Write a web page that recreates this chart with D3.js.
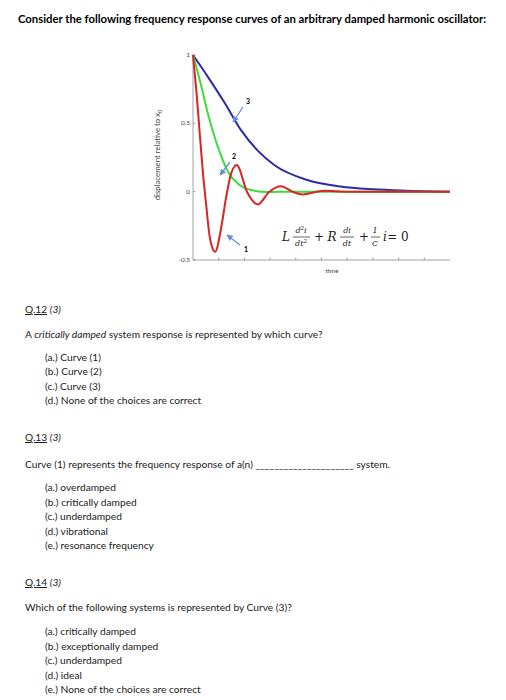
<!DOCTYPE html>
<html><head><meta charset="utf-8">
<script src="https://cdn.jsdelivr.net/npm/d3@7"></script>
<style>body{margin:0;background:#fff}text{font-family:Lato,"Open Sans",sans-serif}</style>
</head><body>
<svg id="page" width="506" height="700"></svg>
<script>
// curve samples (time, displacement)
const curve1 = [[0,1],[0.13,0.74],[0.26,0.43],[0.39,0.13],[0.52,-0.11],[0.65,-0.33],[0.86,-0.44],[1.1,-0.26],[1.29,-0.04],[1.48,0.13],[1.7,0.195],[2.1,0.0],[2.52,-0.093],[2.97,0],[3.42,0.04],[3.87,0],[4.26,-0.02],[5.1,0.007],[6,0],[10,0]];
const curve2 = [[0,1],[0.19,0.87],[0.39,0.72],[0.58,0.57],[0.84,0.4],[1.1,0.26],[1.35,0.15],[1.74,0.06],[2.26,0.012],[2.9,-0.003],[3.8,0],[10,0]];
const curve3 = [[0,1],[0.58,0.84],[1.23,0.65],[1.87,0.45],[2.52,0.3],[3.16,0.195],[4.45,0.085],[5.74,0.037],[7,0.017],[8.3,0.007],[10,0]];
const yTicks = [1, 0.5, 0, -0.5];
const xTicks = [1,2,3,4,5,6,7,8,9];

const svg = d3.select('#page');
const x = d3.scaleLinear().domain([0,10]).range([193,450]);
const y = d3.scaleLinear().domain([-0.5,1]).range([260,55]);

svg.append('text').attr('x',18).attr('y',23).attr('font-size',11.3).attr('font-weight','bold')
  .text('Consider the following frequency response curves of an arbitrary damped harmonic oscillator:');

// axes
const g = svg.append('g');
g.append('line').attr('x1',x(0)).attr('x2',x(0)).attr('y1',y(1)).attr('y2',y(-0.5)).attr('stroke','#666').attr('stroke-width',0.6);
g.append('line').attr('x1',x(0)).attr('x2',x(10)).attr('y1',y(-0.5)).attr('y2',y(-0.5)).attr('stroke','#666').attr('stroke-width',0.6);
g.selectAll('.yt').data(yTicks).join('line').attr('x1',x(0)).attr('x2',x(0)+2.5)
  .attr('y1',d=>y(d)).attr('y2',d=>y(d)).attr('stroke','#666').attr('stroke-width',0.6);
g.selectAll('.yl').data(yTicks).join('text').attr('x',x(0)-3).attr('y',d=>y(d)+2)
  .attr('text-anchor','end').attr('font-size',6.5).attr('fill','#444').text(d=>d);
g.selectAll('.xt').data(xTicks).join('line').attr('x1',d=>x(d)).attr('x2',d=>x(d))
  .attr('y1',y(-0.5)).attr('y2',y(-0.5)-2.5).attr('stroke','#666').attr('stroke-width',0.6);
svg.append('text').attr('x',332).attr('y',273).attr('font-size',6.5).attr('fill','#444').attr('text-anchor','middle').text('time');
svg.append('text').attr('transform','translate(160,155) rotate(-90)').attr('font-size',7.8).attr('fill','#444')
  .attr('text-anchor','middle').html('displacement relative to x<tspan font-size="5.5" dy="1.5">0</tspan>');

const line = d3.line().x(d=>x(d[0])).y(d=>y(d[1])).curve(d3.curveMonotoneX);
[[curve3,'#2b2ba6'],[curve2,'#3ddc3d'],[curve1,'#d82424']].forEach(([c,col])=>{
  svg.append('path').attr('d',line(c)).attr('fill','none').attr('stroke',col).attr('stroke-width',2);
});

// arrows and labels
svg.append('defs').append('marker').attr('id','ah').attr('viewBox','0 0 10 10').attr('refX',9).attr('refY',5)
  .attr('markerWidth',5).attr('markerHeight',5).attr('orient','auto')
  .append('path').attr('d','M0,0L10,5L0,10z').attr('fill','#6c8fd6');
const arrows = [[243,107,233,122,'3',248,104],[230,162,220,175,'2',234,159],[240,245,227,235,'1',246,252]];
arrows.forEach(a=>{
  svg.append('line').attr('x1',a[0]).attr('y1',a[1]).attr('x2',a[2]).attr('y2',a[3])
    .attr('stroke','#6c8fd6').attr('stroke-width',1.3).attr('marker-end','url(#ah)');
  svg.append('text').attr('x',a[5]).attr('y',a[6]).attr('font-size',7).attr('font-weight','bold')
    .attr('text-anchor','middle').text(a[4]);
});

// equation
const eq = svg.append('g').attr('fill','#222');
const t = (xx,yy,s,txt)=>eq.append('text').attr('x',xx).attr('y',yy).attr('font-size',s).attr('text-anchor','middle')
  .style('font-family','"DejaVu Serif",serif').style('font-style','italic').html(txt);
const bar = (x1,x2)=>eq.append('line').attr('x1',x1).attr('x2',x2).attr('y1',237).attr('y2',237).attr('stroke','#222').attr('stroke-width',0.7);
t(286,241,12,'L');
t(301,233,8,'d<tspan font-size="5.5" dy="-3">2</tspan><tspan dy="3">i</tspan>');
bar(293,310);
t(301,246,8,'dt<tspan font-size="5.5" dy="-3">2</tspan>');
t(319,241,12,'+').style('font-style','normal');
t(332,241,12,'R');
t(347,233,8,'di');
bar(340,354);
t(347,246,8,'dt');
t(364,241,12,'+').style('font-style','normal');
t(375,233,8,'1');
bar(371,380);
t(375,246,8,'C');
t(385,241,12,'i');
t(398,241,12,'= 0').style('font-style','normal');

// questions
const fs = 10.2;
function txt(xx,yy,html){ svg.append('text').attr('x',xx).attr('y',yy).attr('font-size',fs).attr('fill','#222').html(html); }
const q12 = ['(a.)  Curve (1)','(b.)  Curve (2)','(c.)  Curve (3)','(d.)  None of the choices are correct'];
const q13 = ['(a.)  overdamped','(b.)  critically damped','(c.)  underdamped','(d.)  vibrational','(e.)  resonance frequency'];
const q14 = ['(a.)  critically damped','(b.)  exceptionally damped','(c.)  underdamped','(d.)  ideal','(e.)  None of the choices are correct'];
txt(25,313,'<tspan text-decoration="underline">Q.12</tspan> <tspan font-style="italic">(3)</tspan>');
txt(25,338,'A <tspan font-style="italic">critically damped</tspan> system response is represented by which curve?');
q12.forEach((s,i)=>txt(45,361+i*14.3,s));
txt(25,441,'<tspan text-decoration="underline">Q.13</tspan> <tspan font-style="italic">(3)</tspan>');
txt(25,468,'Curve (1) represents the frequency response of a(n) _____________________ system.');
q13.forEach((s,i)=>txt(45,491+i*14.5,s));
txt(25,586,'<tspan text-decoration="underline">Q.14</tspan> <tspan font-style="italic">(3)</tspan>');
txt(25,611,'Which of the following systems is represented by Curve (3)?');
q14.forEach((s,i)=>txt(45,635+i*14.5,s));
</script>
</body></html>
